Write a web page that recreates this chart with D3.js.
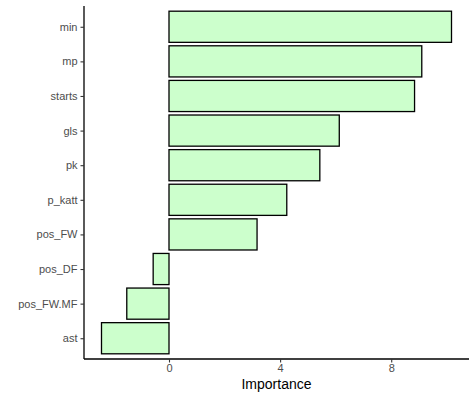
<!DOCTYPE html>
<meta charset="utf-8" />
<title>Importance</title>
<script src="https://d3js.org/d3.v7.min.js"></script>
<style>
body { margin: 0; background: #fff; }
svg { display: block; font-family: 'Liberation Sans', Arial, sans-serif; }
.tick text { fill: #4d4d4d; font-size: 11px; }
.axis-title { font-size: 14px; fill: #000; }
</style>
<div id="chart"></div>
<script>
// features, top to bottom
var features = ["min", "mp", "starts", "gls", "pk", "p_katt", "pos_FW", "pos_DF", "pos_FW.MF", "ast"];
var importance = [10.17, 9.1, 8.84, 6.13, 5.43, 4.24, 3.17, -0.57, -1.52, -2.43];
var xTicks = [0, 4, 8];

var W = 474, H = 397;
var margin = { top: 6, right: 5, bottom: 38, left: 84 };
var width = W - margin.left - margin.right,
    height = H - margin.top - margin.bottom;

var data = features.map(function(f, i) { return { name: f, value: importance[i] }; });

var svg = d3.select("#chart").append("svg")
    .attr("width", W)
    .attr("height", H);
var g = svg.append("g")
    .attr("transform", "translate(" + margin.left + "," + margin.top + ")");

// ggplot style expansion: 5% continuous, 0.6 unit discrete
var lo = d3.min(importance), hi = d3.max(importance);
var pad = (hi - lo) * 0.05;
var x = d3.scaleLinear().domain([lo - pad, hi + pad]).range([0, width]);

var step = height / (features.length - 1 + 1.2);
var y = d3.scalePoint().domain(features).range([0.6 * step, height - 0.6 * step]);
var barH = step * 0.9;

g.selectAll(".bar")
    .data(data)
    .enter().append("rect")
    .attr("class", "bar")
    .attr("x", function(d) { return x(Math.min(0, d.value)); })
    .attr("width", function(d) { return Math.abs(x(d.value) - x(0)); })
    .attr("y", function(d) { return y(d.name) - barH / 2; })
    .attr("height", barH)
    .style("fill", "#ccffcc")
    .style("stroke", "#000")
    .style("stroke-width", 1.3);

var yAxis = g.append("g")
    .call(d3.axisLeft(y).tickSize(3.5).tickPadding(3));
var xAxis = g.append("g")
    .attr("transform", "translate(0," + height + ")")
    .call(d3.axisBottom(x).tickValues(xTicks).tickSize(3.5).tickPadding(2));

[yAxis, xAxis].forEach(function(a) {
    a.select(".domain").attr("stroke", "#000").attr("stroke-width", 1.3)
        .attr("d", a === yAxis ? "M0,0V" + height : "M0,0H" + width);
    a.selectAll(".tick line").attr("stroke", "#333").attr("stroke-width", 1.1);
    a.attr("font-family", null).attr("font-size", null);
});

g.append("text")
    .attr("class", "axis-title")
    .attr("x", width / 2)
    .attr("y", height + 30)
    .attr("text-anchor", "middle")
    .text("Importance");
</script>
